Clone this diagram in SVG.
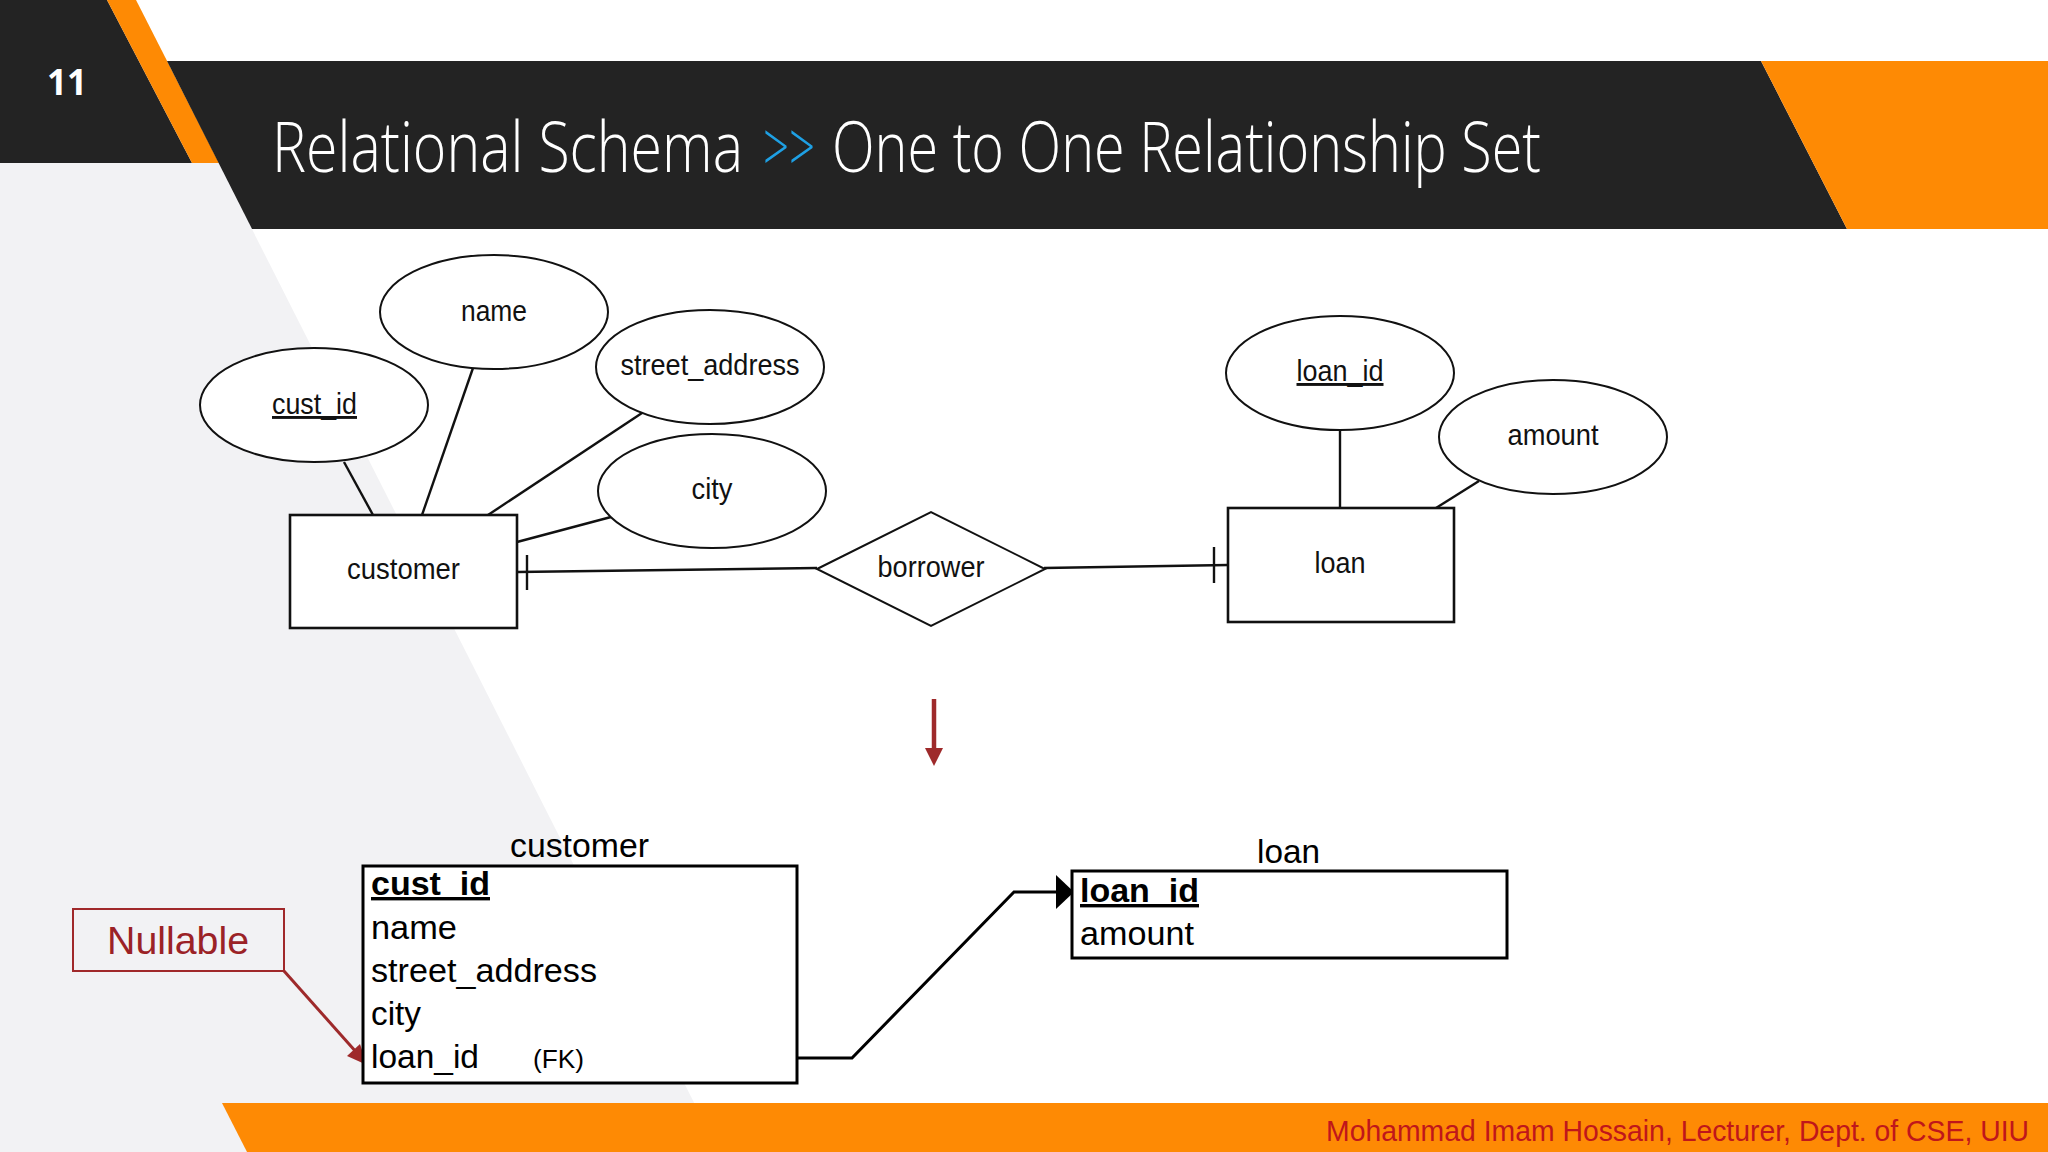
<svg xmlns="http://www.w3.org/2000/svg" width="2048" height="1152" viewBox="0 0 2048 1152">
<style>
.er{fill:#fff;stroke:#111;stroke-width:2}
.ent{fill:#fff;stroke:#111;stroke-width:2.6}
.ln{stroke:#111;stroke-width:2.4;fill:none}
.t{font-family:"Liberation Sans",Arial,sans-serif;font-size:29px;fill:#111}
.tt{font-family:"Liberation Sans",Arial,sans-serif;font-size:34px;fill:#000}
.b{font-weight:bold;text-decoration:underline}
.u{text-decoration:underline}
.title{font-family:"Open Sans",sans-serif;font-weight:300;font-size:50px;fill:#fff}
</style>
<rect width="2048" height="1152" fill="#fff"/>
<polygon points="0,0 136,0 719,1152 0,1152" fill="#f2f2f4"/>
<polygon points="0,0 107,0 192,163 0,163" fill="#232323"/>
<polygon points="107,0 136,0 219,163 192,163" fill="#fe8a04"/>
<polygon points="167,61 1761,61 1847,229 252,229" fill="#232323"/>
<polygon points="1761,61 2048,61 2048,229 1847,229" fill="#fe8a04"/>
<polygon points="222,1103 2048,1103 2048,1152 247,1152" fill="#fe8a04"/>
<text x="47" y="95" font-family="Open Sans, sans-serif" font-weight="bold" font-size="35" fill="#fff">11</text>
<g transform="translate(0,172) scale(1,1.4)">
<text class="title" x="272" y="0" textLength="471" lengthAdjust="spacingAndGlyphs">Relational Schema</text>
<text class="title" x="763" y="0" textLength="52" lengthAdjust="spacingAndGlyphs" style="fill:#1ea0e4">&gt;&gt;</text>
<text class="title" x="832" y="0" textLength="709" lengthAdjust="spacingAndGlyphs">One to One Relationship Set</text>
</g>
<text x="1326" y="1141" font-family="Liberation Sans, Arial, sans-serif" font-size="29" fill="#c0161b" textLength="703" lengthAdjust="spacingAndGlyphs">Mohammad Imam Hossain, Lecturer, Dept. of CSE, UIU</text>

<g id="connectors">
<line class="ln" x1="344" y1="462" x2="373" y2="515"/>
<line class="ln" x1="473" y1="368" x2="422" y2="515"/>
<line class="ln" x1="642" y1="413" x2="488" y2="515"/>
<line class="ln" x1="611" y1="517" x2="517" y2="542"/>
<polyline class="ln" points="517,572 817,568"/>
<line class="ln" x1="527" y1="555" x2="527" y2="590"/>
<polyline class="ln" points="1044,568 1228,565"/>
<line class="ln" x1="1214" y1="547" x2="1214" y2="583"/>
<line class="ln" x1="1340" y1="430" x2="1340" y2="508"/>
<line class="ln" x1="1479" y1="481" x2="1436" y2="508"/>
<line x1="934" y1="699" x2="934" y2="752" stroke="#9e2a2b" stroke-width="4.5"/>
<polygon points="925,748 943,748 934,766" fill="#9e2a2b"/>
<polyline points="797,1058 852,1058 1014,892 1058,892" fill="none" stroke="#000" stroke-width="3"/>
<polygon points="1056,875 1074,892 1056,909" fill="#000"/>
<line x1="284" y1="971" x2="357" y2="1053" stroke="#9e2a2b" stroke-width="3"/>
<polygon points="367,1065 347,1056 360,1044" fill="#9e2a2b"/>
</g>

<g id="attr-cust_id"><ellipse class="er" cx="314" cy="405" rx="114" ry="57"/><text class="t u" x="272" y="414" textLength="85" lengthAdjust="spacingAndGlyphs">cust_id</text></g>
<g id="attr-name"><ellipse class="er" cx="494" cy="312" rx="114" ry="57"/><text class="t" x="461" y="321" textLength="66" lengthAdjust="spacingAndGlyphs">name</text></g>
<g id="attr-street_address"><ellipse class="er" cx="710" cy="367" rx="114" ry="57"/><text class="t" x="620.5" y="375" textLength="179" lengthAdjust="spacingAndGlyphs">street_address</text></g>
<g id="attr-city"><ellipse class="er" cx="712" cy="491" rx="114" ry="57"/><text class="t" x="691.5" y="499" textLength="41" lengthAdjust="spacingAndGlyphs">city</text></g>
<g id="entity-customer"><rect class="ent" x="290" y="515" width="227" height="113"/><text class="t" x="347" y="579" textLength="113" lengthAdjust="spacingAndGlyphs">customer</text></g>
<g id="rel-borrower"><polygon class="er" points="817,569 931,512 1045,569 931,626"/><text class="t" x="877.5" y="577" textLength="107" lengthAdjust="spacingAndGlyphs">borrower</text></g>
<g id="entity-loan"><rect class="ent" x="1228" y="508" width="226" height="114"/><text class="t" x="1314.5" y="573" textLength="51" lengthAdjust="spacingAndGlyphs">loan</text></g>
<g id="attr-loan_id"><ellipse class="er" cx="1340" cy="373" rx="114" ry="57"/><text class="t u" x="1296.5" y="381" textLength="87" lengthAdjust="spacingAndGlyphs">loan_id</text></g>
<g id="attr-amount"><ellipse class="er" cx="1553" cy="437" rx="114" ry="57"/><text class="t" x="1507.5" y="445" textLength="91" lengthAdjust="spacingAndGlyphs">amount</text></g>

<g id="table-customer">
<text class="tt" x="510" y="857" textLength="139" lengthAdjust="spacingAndGlyphs">customer</text>
<rect x="363" y="866" width="434" height="217" fill="#fff" stroke="#000" stroke-width="3"/>
<text class="tt b" x="371" y="895" textLength="119" lengthAdjust="spacingAndGlyphs">cust_id</text>
<text class="tt" x="371" y="939" textLength="86" lengthAdjust="spacingAndGlyphs">name</text>
<text class="tt" x="371" y="982" textLength="226" lengthAdjust="spacingAndGlyphs">street_address</text>
<text class="tt" x="371" y="1025" textLength="50" lengthAdjust="spacingAndGlyphs">city</text>
<text class="tt" x="371" y="1068" textLength="108" lengthAdjust="spacingAndGlyphs">loan_id</text>
<text class="tt" x="533" y="1068" style="font-size:26px" textLength="51" lengthAdjust="spacingAndGlyphs">(FK)</text>
</g>
<g id="table-loan">
<text class="tt" x="1257" y="863" textLength="63" lengthAdjust="spacingAndGlyphs">loan</text>
<rect x="1072" y="871" width="435" height="87" fill="#fff" stroke="#000" stroke-width="3"/>
<text class="tt b" x="1080" y="902" textLength="119" lengthAdjust="spacingAndGlyphs">loan_id</text>
<text class="tt" x="1080" y="945" textLength="114" lengthAdjust="spacingAndGlyphs">amount</text>
</g>
<g id="note-nullable">
<rect x="73" y="909" width="211" height="62" fill="none" stroke="#a0282a" stroke-width="2"/>
<text x="107" y="954" font-family="Liberation Sans, Arial, sans-serif" font-size="39" fill="#9b2226" textLength="142" lengthAdjust="spacingAndGlyphs">Nullable</text>
</g>
</svg>
